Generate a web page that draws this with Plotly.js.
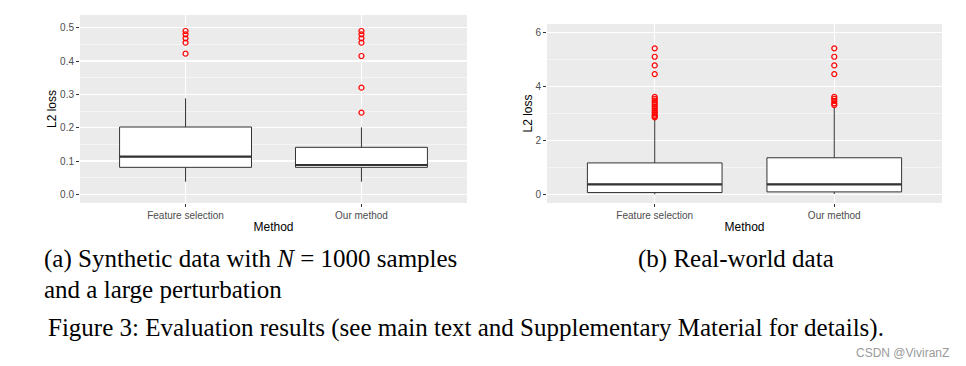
<!DOCTYPE html>
<html>
<head>
<meta charset="utf-8">
<script src="https://cdn.plot.ly/plotly-3.0.1.min.js"></script>
<style>
html,body{margin:0;padding:0;background:#fff;}
#chart{width:966px;height:366px;}
</style>
</head>
<body>
<div id="chart"></div>
<script>
// ---- data ----
const methods = ['Feature selection', 'Our method'];
const methodPos = [1, 2];

// (a) synthetic data
const synQ1 = [0.081, 0.081];
const synMedian = [0.113, 0.088];
const synQ3 = [0.202, 0.141];
const synLower = [0.038, 0.038];
const synUpper = [0.288, 0.201];
const synOutFS = [0.490, 0.480, 0.468, 0.455, 0.422];
const synOutOurs = [0.490, 0.480, 0.468, 0.455, 0.415, 0.320, 0.245];

// (b) real-world data
const realQ1 = [0.086, 0.11];
const realMedian = [0.39, 0.39];
const realQ3 = [1.18, 1.37];
const realLower = [0.02, 0.03];
const realUpper = [2.82, 3.25];
const realOutFS = [5.41, 5.10, 4.78, 4.46, 3.62, 3.55, 3.48, 3.40, 3.33, 3.25, 3.18, 3.10, 3.03, 2.96, 2.90, 2.86];
const realOutOurs = [5.41, 5.10, 4.78, 4.46, 3.62, 3.55, 3.47, 3.38, 3.32];

// ---- styling ----
const BOXW = 0.75;
const lineCol = '#333333';
const W = 966, H = 366;

function boxTrace(q1, med, q3, lo, hi, xa, ya) {
  return {
    type: 'box', x: methodPos, q1: q1, median: med, q3: q3,
    lowerfence: lo, upperfence: hi, width: BOXW, whiskerwidth: 0,
    fillcolor: '#ffffff', line: {color: lineCol, width: 1},
    boxpoints: false, xaxis: xa, yaxis: ya, showlegend: false, hoverinfo: 'skip'
  };
}
function medianTrace(med, xa, ya) {
  const xs = [], ys = [];
  methodPos.forEach((p, i) => { xs.push(p - BOXW / 2, p + BOXW / 2, null); ys.push(med[i], med[i], null); });
  return {type: 'scatter', mode: 'lines', x: xs, y: ys, line: {color: lineCol, width: 2.2},
          xaxis: xa, yaxis: ya, showlegend: false, hoverinfo: 'skip'};
}
function outTrace(a, b, xa, ya) {
  const xs = a.map(() => methodPos[0]).concat(b.map(() => methodPos[1]));
  return {type: 'scatter', mode: 'markers', x: xs, y: a.concat(b),
          marker: {symbol: 'circle-open', color: '#ff0000', size: 5, line: {width: 1.2, color: '#ff0000'}},
          xaxis: xa, yaxis: ya, showlegend: false};
}

const data = [
  boxTrace(synQ1, synMedian, synQ3, synLower, synUpper, 'x', 'y'),
  medianTrace(synMedian, 'x', 'y'),
  outTrace(synOutFS, synOutOurs, 'x', 'y'),
  boxTrace(realQ1, realMedian, realQ3, realLower, realUpper, 'x2', 'y2'),
  medianTrace(realMedian, 'x2', 'y2'),
  outTrace(realOutFS, realOutOurs, 'x2', 'y2')
];

const tickFont = {family: 'Liberation Sans, Arial, sans-serif', size: 10, color: '#4D4D4D'};
const titleFont = {family: 'Liberation Sans, Arial, sans-serif', size: 12, color: '#000000'};

function xAxis(d, anchor) {
  return {domain: d, anchor: anchor, range: [0.4, 2.6], tickvals: methodPos, ticktext: methods,
          showgrid: true, gridcolor: '#ffffff', gridwidth: 1.1, zeroline: false,
          ticks: 'outside', ticklen: 3, tickcolor: lineCol, tickfont: tickFont,
          showline: false, fixedrange: true,
          title: {text: 'Method', font: titleFont, standoff: 2}};
}
function yAxis(d, anchor, range, dtick, minor, fmt) {
  return {domain: d, anchor: anchor, range: range, dtick: dtick, tick0: 0, tickformat: fmt,
          showgrid: true, gridcolor: '#ffffff', gridwidth: 1.1, zeroline: false,
          minor: {dtick: minor, tick0: 0, showgrid: true, gridcolor: '#ffffff', gridwidth: 0.5, ticks: ''},
          ticks: 'outside', ticklen: 3, tickcolor: lineCol, tickfont: tickFont,
          showline: false, fixedrange: true,
          title: {text: 'L2 loss', font: titleFont, standoff: 0}};
}

const yDom1 = [1 - 203 / H, 1 - 15 / H];
const yDom2 = [1 - 203 / H, 1 - 24 / H];

const capFont = {family: 'Liberation Serif, Times New Roman, serif', size: 25, color: '#000000'};
const layout = {
  width: W, height: H, margin: {l: 0, r: 0, t: 0, b: 0},
  paper_bgcolor: '#ffffff', plot_bgcolor: '#EBEBEB', showlegend: false,
  xaxis: xAxis([80 / W, 467 / W], 'y'),
  yaxis: yAxis(yDom1, 'x', [-0.026, 0.538], 0.1, 0.05, '.1f'),
  xaxis2: xAxis([547 / W, 942 / W], 'y2'),
  yaxis2: yAxis(yDom2, 'x2', [-0.3, 6.31], 2, 1, 'd'),
  annotations: [
    {text: '(a) Synthetic data with <i>N</i> = 1000 samples', xref: 'paper', yref: 'paper',
     x: 42 / W, y: 1 - 259 / H, xanchor: 'left', yanchor: 'middle', showarrow: false, font: capFont},
    {text: 'and a large perturbation', xref: 'paper', yref: 'paper',
     x: 42 / W, y: 1 - 289 / H, xanchor: 'left', yanchor: 'middle', showarrow: false, font: capFont},
    {text: '(b) Real-world data', xref: 'paper', yref: 'paper',
     x: 636 / W, y: 1 - 259 / H, xanchor: 'left', yanchor: 'middle', showarrow: false, font: capFont},
    {text: 'Figure 3: Evaluation results (see main text and Supplementary Material for details).', xref: 'paper', yref: 'paper',
     x: 46 / W, y: 1 - 328 / H, xanchor: 'left', yanchor: 'middle', showarrow: false, font: capFont},
    {text: 'CSDN @ViviranZ', xref: 'paper', yref: 'paper',
     x: 951 / W, y: 1 - 353 / H, xanchor: 'right', yanchor: 'middle', showarrow: false,
     font: {family: 'Liberation Sans, Arial, sans-serif', size: 12, color: '#9a9a9a'}}
  ]
};

Plotly.newPlot('chart', data, layout, {staticPlot: true, displayModeBar: false});
</script>
</body>
</html>
